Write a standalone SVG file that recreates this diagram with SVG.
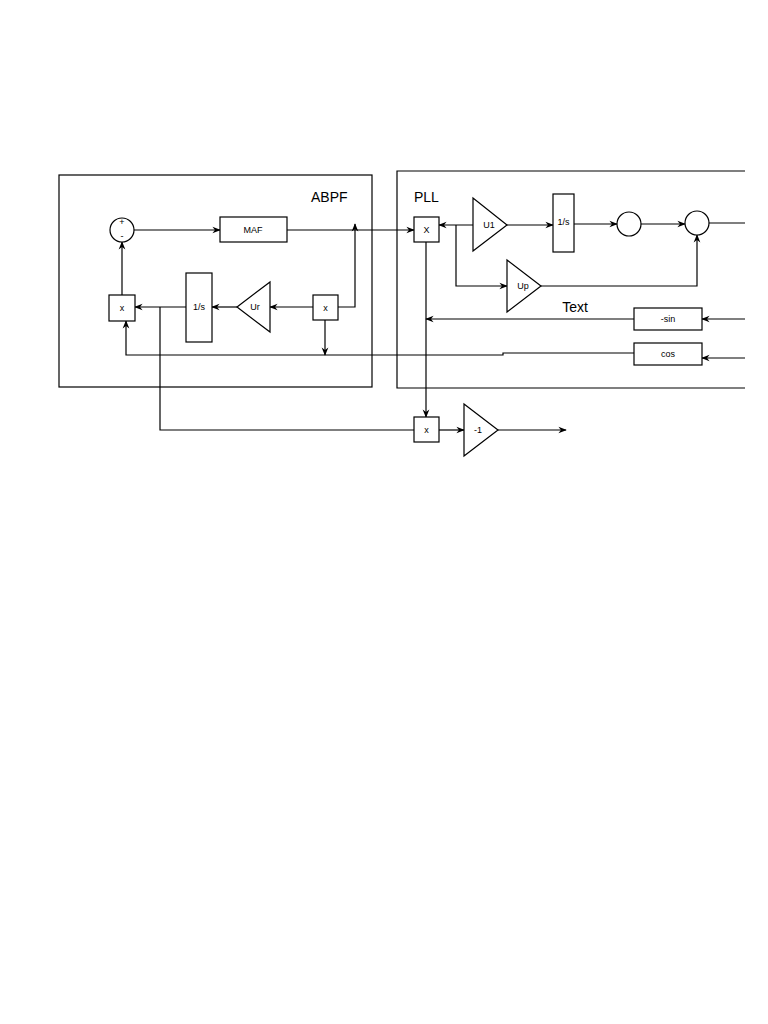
<svg xmlns="http://www.w3.org/2000/svg" width="768" height="1024" viewBox="0 0 768 1024">
<style>
.s{fill:#fff;stroke:#000;stroke-width:1.2}
.l{fill:none;stroke:#000;stroke-width:1.2}
.t{font-family:"Liberation Sans",Arial,sans-serif;font-size:9px;text-anchor:middle;dominant-baseline:central}
.b{font-family:"Liberation Sans",Arial,sans-serif;font-size:14px}
</style>
<defs><marker id="a" viewBox="0 0 10 10" refX="9" refY="5" markerWidth="7" markerHeight="7" orient="auto"><path d="M0,1 L10,5 L0,9 L3,5 z" fill="#000"/></marker></defs>
<rect width="768" height="1024" fill="#fff"/>
<g id="abpf"><rect x="59" y="175" width="313" height="212" class="l"/><text x="311" y="202" class="b">ABPF</text></g>
<g id="pll"><path d="M745,171 H397 V388 H745" class="l"/><text x="414" y="202" class="b">PLL</text></g>
<g id="connectors" class="l">
<path d="M134,230 H220" marker-end="url(#a)"/>
<path d="M287,230 H414" marker-end="url(#a)"/>
<path d="M338,307 H355 V224" marker-end="url(#a)"/>
<path d="M313,307 H270" marker-end="url(#a)"/>
<path d="M237,307 H212" marker-end="url(#a)"/>
<path d="M186,307 H135" marker-end="url(#a)"/>
<path d="M160,307 V430 H414"/>
<path d="M122,295 V242" marker-end="url(#a)"/>
<path d="M634,353 H503 V355 H126 V321" marker-end="url(#a)"/>
<path d="M325,320 V355" marker-end="url(#a)"/>
<path d="M473,225 H439" marker-end="url(#a)"/>
<path d="M456,225 V286 H507" marker-end="url(#a)"/>
<path d="M507,225 H553" marker-end="url(#a)"/>
<path d="M574,224 H617" marker-end="url(#a)"/>
<path d="M641,224 H685" marker-end="url(#a)"/>
<path d="M709,223 H745"/>
<path d="M541,286 H697 V235" marker-end="url(#a)"/>
<path d="M745,319 H702" marker-end="url(#a)"/>
<path d="M634,319 H426" marker-end="url(#a)"/>
<path d="M745,358 H702" marker-end="url(#a)"/>
<path d="M426,242 V417" marker-end="url(#a)"/>
<path d="M439,430 H464" marker-end="url(#a)"/>
<path d="M498,430 H566" marker-end="url(#a)"/>
</g>
<g id="sum"><circle cx="122" cy="230" r="12" class="s"/><text x="122" y="222" class="t" font-size="8">+</text><text x="122" y="236" class="t" font-size="8">-</text></g>
<g id="maf"><rect x="220" y="217" width="67" height="25" class="s"/><text x="253" y="229.5" class="t">MAF</text></g>
<g id="x3"><rect x="313" y="295" width="25" height="25" class="s"/><text x="325.5" y="307.5" class="t">x</text></g>
<g id="ur"><path d="M270,282 V332 L237,307 z" class="s"/><text x="255" y="307" class="t">Ur</text></g>
<g id="int1"><rect x="186" y="273" width="26" height="69" class="s"/><text x="199" y="307" class="t">1/s</text></g>
<g id="x1"><rect x="109" y="295" width="26" height="26" class="s"/><text x="122" y="308" class="t">x</text></g>
<g id="xpll"><rect x="414" y="217" width="25" height="25" class="s"/><text x="426.5" y="229.5" class="t">X</text></g>
<g id="u1"><path d="M473,198 V251 L507,225 z" class="s"/><text x="489" y="225" class="t">U1</text></g>
<g id="up"><path d="M507,260 V312 L541,286 z" class="s"/><text x="523" y="286" class="t">Up</text></g>
<g id="int2"><rect x="553" y="194" width="21" height="58" class="s"/><text x="563.5" y="222" class="t">1/s</text></g>
<g id="c1"><circle cx="629" cy="224" r="12" class="s"/></g>
<g id="c2"><circle cx="697" cy="223" r="12" class="s"/></g>
<g id="msin"><rect x="634" y="308" width="68" height="22" class="s"/><text x="668" y="319" class="t">-sin</text></g>
<g id="cos"><rect x="634" y="343" width="68" height="22" class="s"/><text x="668" y="354" class="t">cos</text></g>
<g id="lbl"><text x="575" y="312" class="b" text-anchor="middle" font-size="13">Text</text></g>
<g id="x4"><rect x="414" y="417" width="25" height="25" class="s"/><text x="426.5" y="429.5" class="t">x</text></g>
<g id="neg"><path d="M464,404 V456 L498,430 z" class="s"/><text x="478" y="430" class="t">-1</text></g>
</svg>
